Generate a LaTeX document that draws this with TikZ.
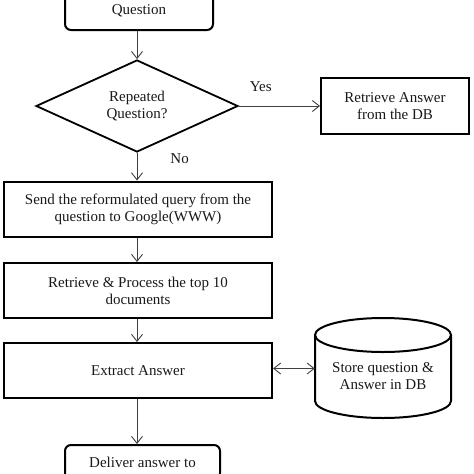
\documentclass[tikz,border=0pt]{standalone}
\usepackage{fontspec}
\setmainfont{Liberation Serif}
\usetikzlibrary{arrows.meta,shapes.geometric}
\begin{document}
\begin{tikzpicture}[x=1pt,y=-1pt,
  every node/.style={font=\fontsize{15}{17}\selectfont, text=black!90, align=center, inner sep=0pt},
  procbox/.style={draw=black, line width=2pt, minimum width=268pt, minimum height=55pt},
  roundbox/.style={draw=black, line width=2pt, rounded corners=6pt},
  decbox/.style={draw=black, line width=1.8pt, diamond, aspect=2.2, minimum width=202pt, minimum height=92pt},
  conn/.style={draw=black!75, line width=0.9pt, -{Straight Barb[length=7pt,width=11pt]}},
  conn2/.style={draw=black!75, line width=0.9pt, {Straight Barb[length=7pt,width=11pt]}-{Straight Barb[length=7pt,width=11pt]}},
  lbl/.style={font=\fontsize{15}{17}\selectfont}
]
\useasboundingbox (0,0) rectangle (474,474);
\fill[white] (0,0) rectangle (474,474);

% top box
\node[roundbox, minimum width=148pt, minimum height=38pt] (q) at (139,11) {Question};
% diamond
\node[decbox] (rep) at (137,106) {Repeated\\Question?};
% retrieve from DB
\node[procbox, minimum width=148pt, minimum height=56pt] (rdb) at (395,106) {Retrieve Answer\\from the DB};
% send
\node[procbox] (send) at (138,209) {Send the reformulated query from the\\question to Google(WWW)};
% retrieve & process
\node[procbox] (proc) at (138,290.5) {Retrieve \& Process the top 10\\documents};
% extract
\node[procbox] (ext) at (138,370.5) {Extract Answer};
% database
\node[minimum width=136pt, minimum height=34pt] (db) at (383,376) {Store question \&\\Answer in DB};
\draw[line width=2pt] (315,335) -- (315,401) arc[start angle=180, end angle=0, x radius=68, y radius=17] -- (451,335);
\draw[line width=2pt] (383,335) ellipse[x radius=68, y radius=17];
% deliver
\node[roundbox, minimum width=155pt, minimum height=34pt] (del) at (142.5,462) {Deliver answer to};

% connectors
\draw[conn] (q.south -| rep.north) -- (rep.north);
\draw[conn] (rep.east) -- (rdb.west) node[lbl, pos=0.27, above=14pt] {Yes};
\draw[conn] (rep.south) -- (send.north -| rep.south) node[lbl, pos=0.2, right=33pt] {No};
\draw[conn] (send.south -| rep.south) -- (proc.north -| rep.south);
\draw[conn] (proc.south -| rep.south) -- (ext.north -| rep.south);
\draw[conn2] ([yshift=2pt]ext.east) -- ([yshift=2pt]ext.east -| db.west);
\draw[conn] (ext.south -| rep.south) -- (del.north -| rep.south);
\end{tikzpicture}
\end{document}
